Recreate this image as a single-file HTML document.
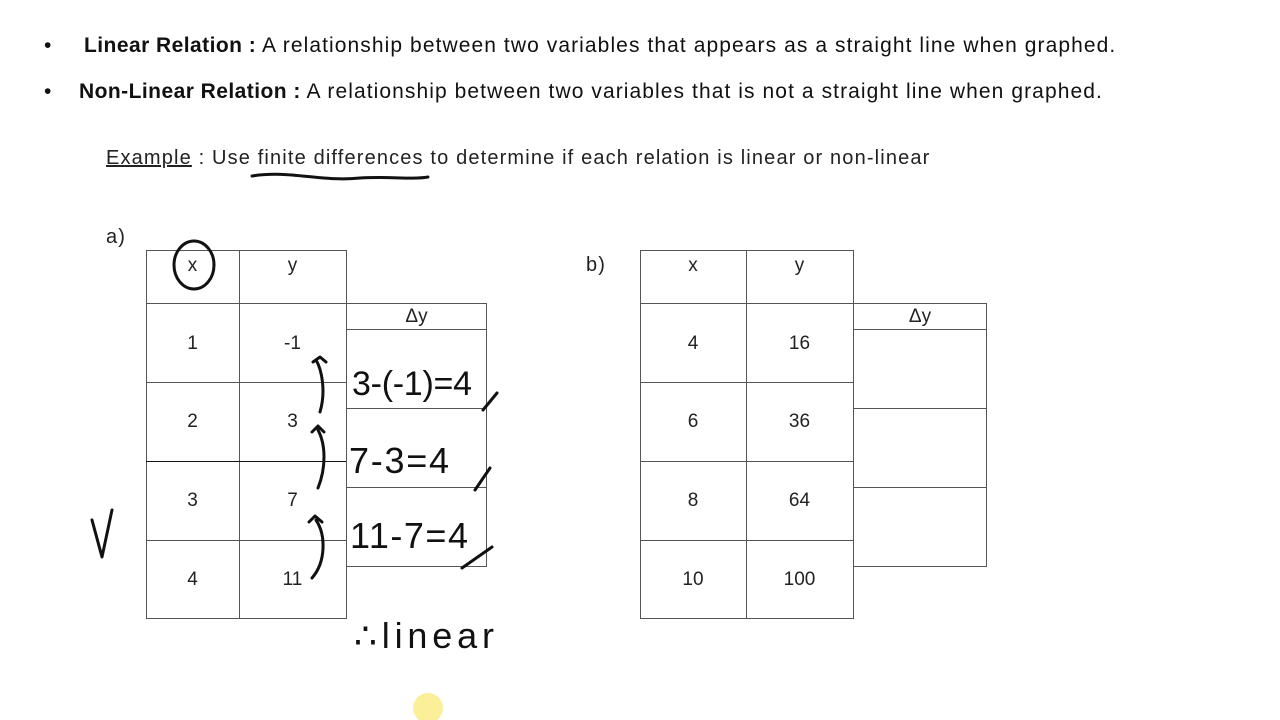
<!DOCTYPE html>
<html><head><meta charset="utf-8"><style>
body{margin:0;width:1280px;height:720px;background:#fff;position:relative;overflow:hidden;font-family:"Liberation Sans",Arial,sans-serif;color:#111}
.t{position:absolute;white-space:nowrap;font-size:21px;letter-spacing:1.08px}
.t b{letter-spacing:0.45px}
.c{position:absolute;font-size:19px;text-align:center;color:#222}
svg{position:absolute;left:0;top:0}
</style></head><body>
<div class="t" style="left:44px;top:34px">•</div>
<div class="t" style="left:84px;top:34px"><b>Linear Relation :</b> A relationship between two variables that appears as a straight line when graphed.</div>
<div class="t" style="left:44px;top:80px">•</div>
<div class="t" style="left:79px;top:80px"><b>Non-Linear Relation :</b> A relationship between two variables that is not a straight line when graphed.</div>
<div class="t" style="left:106px;top:147px;color:#222;font-size:20px;letter-spacing:1.15px"><u>Example</u> : Use finite differences to determine if each relation is linear or non-linear</div>
<div class="t" style="left:106px;top:226px;color:#222;font-size:20px">a)</div>
<div class="t" style="left:586px;top:254px;color:#222;font-size:20px">b)</div>

<svg width="1280" height="720" fill="none">
<g stroke="#555" stroke-width="1">
<rect x="146.5" y="250.5" width="200" height="368"/>
<line x1="239.5" y1="250" x2="239.5" y2="618"/>
<line x1="146" y1="303.5" x2="346" y2="303.5"/>
<line x1="146" y1="382.5" x2="346" y2="382.5"/>
<line x1="146" y1="461.5" x2="346" y2="461.5" stroke="#111"/>
<line x1="146" y1="540.5" x2="346" y2="540.5"/>
<rect x="346.5" y="303.5" width="140" height="263"/>
<line x1="346" y1="329.5" x2="487" y2="329.5"/>
<line x1="346" y1="408.5" x2="487" y2="408.5"/>
<line x1="346" y1="487.5" x2="487" y2="487.5"/>
<rect x="640.5" y="250.5" width="213" height="368"/>
<line x1="746.5" y1="250" x2="746.5" y2="618"/>
<line x1="640" y1="303.5" x2="853" y2="303.5"/>
<line x1="640" y1="382.5" x2="853" y2="382.5"/>
<line x1="640" y1="461.5" x2="853" y2="461.5"/>
<line x1="640" y1="540.5" x2="853" y2="540.5"/>
<rect x="853.5" y="303.5" width="133" height="263"/>
<line x1="853" y1="329.5" x2="987" y2="329.5"/>
<line x1="853" y1="408.5" x2="987" y2="408.5"/>
<line x1="853" y1="487.5" x2="987" y2="487.5"/>
</g>
<g stroke="#111" stroke-width="3" stroke-linecap="round" stroke-linejoin="round">
<path d="M252 176 C290 170 320 182 360 178 C390 176 410 180 428 177"/>
<ellipse cx="194" cy="265" rx="20" ry="24"/>
<path d="M92 520 L102 557 L112 510"/>
<path d="M320 412 C326 392 322 370 316 360 M313 362 L320 357 L326 362"/>
<path d="M318 488 C326 468 326 445 318 430 M312 432 L318 426 L324 432"/>
<path d="M312 578 C326 562 326 535 316 520 M309 522 L315 516 L322 522"/>
<path d="M483 410 L497 393 M475 490 L490 468 M462 568 L492 547"/>
<text x="352" y="395" font-family="Liberation Sans,sans-serif" font-size="34" fill="#111" stroke="none" textLength="120">3-(-1)=4</text>
<text x="349" y="473" font-family="Liberation Sans,sans-serif" font-size="36" fill="#111" stroke="none" textLength="100">7-3=4</text>
<text x="350" y="548" font-family="Liberation Sans,sans-serif" font-size="36" fill="#111" stroke="none" textLength="118">11-7=4</text>
<text x="354" y="648" font-family="Liberation Sans,sans-serif" font-size="36" fill="#111" stroke="none" textLength="140">∴linear</text>
</g>
<circle cx="428" cy="708" r="15" fill="#fbef9a"/>
</svg>

<div class="c" style="left:146px;top:255px;width:93px">x</div>
<div class="c" style="left:239px;top:255px;width:107px">y</div>
<div class="c" style="left:346px;top:306px;width:141px">Δy</div>
<div class="c" style="left:146px;top:333px;width:93px">1</div>
<div class="c" style="left:239px;top:333px;width:107px">-1</div>
<div class="c" style="left:146px;top:411px;width:93px">2</div>
<div class="c" style="left:239px;top:411px;width:107px">3</div>
<div class="c" style="left:146px;top:490px;width:93px">3</div>
<div class="c" style="left:239px;top:490px;width:107px">7</div>
<div class="c" style="left:146px;top:569px;width:93px">4</div>
<div class="c" style="left:239px;top:569px;width:107px">11</div>

<div class="c" style="left:640px;top:255px;width:106px">x</div>
<div class="c" style="left:746px;top:255px;width:107px">y</div>
<div class="c" style="left:853px;top:306px;width:134px">Δy</div>
<div class="c" style="left:640px;top:333px;width:106px">4</div>
<div class="c" style="left:746px;top:333px;width:107px">16</div>
<div class="c" style="left:640px;top:411px;width:106px">6</div>
<div class="c" style="left:746px;top:411px;width:107px">36</div>
<div class="c" style="left:640px;top:490px;width:106px">8</div>
<div class="c" style="left:746px;top:490px;width:107px">64</div>
<div class="c" style="left:640px;top:569px;width:106px">10</div>
<div class="c" style="left:746px;top:569px;width:107px">100</div>
</body></html>
